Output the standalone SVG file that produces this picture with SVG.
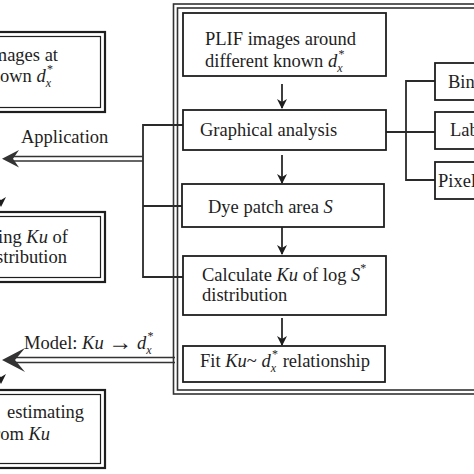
<svg xmlns="http://www.w3.org/2000/svg" width="474" height="474" viewBox="0 0 474 474">
<defs>
<style>
text{font-family:"Liberation Serif","Times New Roman",serif;font-size:18.5px;fill:#1e1e1e}
.it{font-style:italic}
.sm{font-size:12px}
.box{fill:#fff;stroke:#1e1e1e;stroke-width:1.8}
.frame{fill:none;stroke:#333;stroke-width:1.6}
.ob{fill:none;stroke:#1e1e1e;stroke-width:2.2}
.ib{fill:none;stroke:#1e1e1e;stroke-width:1.2}
.ln{fill:none;stroke:#2a2a2a;stroke-width:1.8}
.dl{fill:none;stroke:#333;stroke-width:1.6}
</style>
<marker id="ah" viewBox="0 0 10 10" refX="9" refY="5" markerWidth="10" markerHeight="10" markerUnits="userSpaceOnUse" orient="auto">
<path d="M0,0 L10,5 L0,10 L3,5 Z" fill="#1e1e1e"/>
</marker>
</defs>
<rect width="474" height="474" fill="#fff"/>

<g id="frame">
<rect class="frame" x="173.5" y="4" width="320" height="390"/>
<rect class="frame" x="177.5" y="8" width="320" height="382"/>
</g>

<g id="connectors">
<line class="ln" x1="282" y1="84" x2="282" y2="108" marker-end="url(#ah)"/>
<line class="ln" x1="282" y1="155" x2="282" y2="183" marker-end="url(#ah)"/>
<line class="ln" x1="282" y1="227" x2="282" y2="254" marker-end="url(#ah)"/>
<line class="ln" x1="282" y1="318" x2="282" y2="345" marker-end="url(#ah)"/>
<polyline class="ln" points="183,125 143,125 143,277 183,277"/>
<line class="ln" x1="143" y1="206" x2="183" y2="206"/>
<line class="ln" x1="386" y1="132" x2="435" y2="132"/>
<polyline class="ln" points="435,81 406,81 406,180 435,180"/>
<line class="dl" x1="143" y1="156.5" x2="12" y2="156.5"/>
<line class="dl" x1="143" y1="161" x2="12" y2="161"/>
<path d="M2,158.8 L19,150 L13,158.8 L19,167.5 Z" fill="#333"/>
<line class="dl" x1="175" y1="357.5" x2="14" y2="357.5"/>
<line class="dl" x1="175" y1="362.5" x2="14" y2="362.5"/>
<path d="M2,360 L25,348 L15,360 L25,372 Z" fill="#333"/>
<path d="M1,207 L-5,197 L1,200 L6,197 Z" fill="#1e1e1e"/>
<path d="M1,384 L-5,374 L1,377 L6,374 Z" fill="#1e1e1e"/>
<text x="21" y="143" fill="#444">Application</text>
<text x="24" y="349">Model: <tspan class="it">Ku</tspan> <tspan font-size="24" dy="1">→</tspan> <tspan class="it" dy="-1">d</tspan><tspan class="sm it" dy="5">x</tspan><tspan class="sm" dx="-4" dy="-14">*</tspan></text>
</g>

<g id="n-plif">
<rect class="box" x="183" y="13" width="203" height="63"/>
<text x="205" y="45">PLIF images around</text>
<text x="205" y="67">different known <tspan class="it">d</tspan><tspan class="sm it" dy="5">x</tspan><tspan class="sm" dx="-4" dy="-14">*</tspan></text>
</g>

<g id="n-graph">
<rect class="box" x="183" y="110" width="203" height="40"/>
<text x="200" y="136">Graphical analysis</text>
</g>

<g id="n-dye">
<rect class="box" x="182" y="184" width="202" height="43"/>
<text x="208" y="213">Dye patch area <tspan class="it">S</tspan></text>
</g>

<g id="n-calc">
<rect class="box" x="183" y="256" width="203" height="59"/>
<text x="202" y="281">Calculate <tspan class="it">Ku</tspan> of log <tspan class="it">S</tspan><tspan class="sm" dy="-9">*</tspan></text>
<text x="202" y="301">distribution</text>
</g>

<g id="n-fit">
<rect class="box" x="183" y="346" width="202" height="36"/>
<text x="200" y="367">Fit <tspan class="it">Ku</tspan>~ <tspan class="it">d</tspan><tspan class="sm it" dy="5">x</tspan><tspan class="sm" dx="-4" dy="-14">*</tspan><tspan dy="9"> relationship</tspan></text>
</g>

<g id="n-bin">
<rect class="box" x="435" y="63" width="60" height="37"/>
<text x="448" y="88">Binarization</text>
</g>
<g id="n-label">
<rect class="box" x="435" y="112" width="60" height="37"/>
<text x="450" y="136">Labeling</text>
</g>
<g id="n-pixel">
<rect class="box" x="435" y="162" width="60" height="37"/>
<text x="438" y="187">Pixel counting</text>
</g>

<g id="n-left1">
<rect class="ob" x="-10" y="32" width="115" height="80"/>
<rect class="ib" x="-10" y="36.5" width="110.5" height="71"/>
<text x="58" y="61" text-anchor="end">images at</text>
<text x="53" y="82" text-anchor="end">known <tspan class="it">d</tspan><tspan class="sm it" dy="5">x</tspan><tspan class="sm" dx="-4" dy="-14">*</tspan></text>
</g>

<g id="n-left2">
<rect class="ob" x="-10" y="212" width="115" height="70"/>
<rect class="ib" x="-10" y="216.5" width="110.5" height="61"/>
<text x="68" y="243" text-anchor="end">Calculating <tspan class="it">Ku</tspan> of</text>
<text x="67" y="263" text-anchor="end">distribution</text>
</g>

<g id="n-left3">
<rect class="ob" x="-10" y="390" width="115" height="78"/>
<rect class="ib" x="-10" y="394.5" width="110.5" height="69"/>
<text x="7" y="418">estimating</text>
<text x="50" y="440" text-anchor="end">from <tspan class="it">Ku</tspan></text>
</g>
</svg>
